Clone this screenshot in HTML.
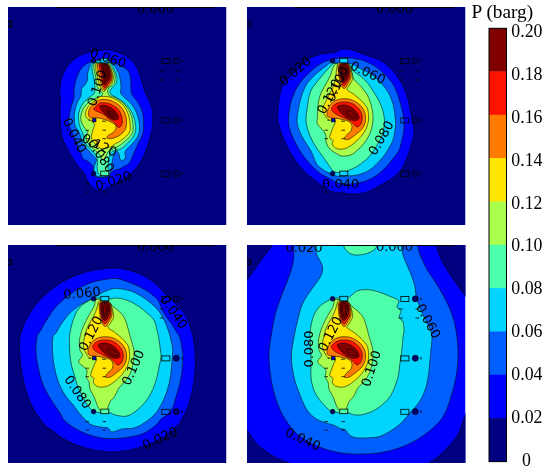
<!DOCTYPE html>
<html><head><meta charset="utf-8"><title>P (barg)</title>
<style>
html,body{margin:0;padding:0;background:#fff}
svg{display:block}
.c path{stroke:#000;stroke-width:.55;stroke-linejoin:round}
.l{font-family:"DejaVu Sans","Liberation Sans",sans-serif;font-size:13px;fill:#000}
.s{font-family:"Liberation Serif",serif;font-size:17.8px;fill:#000}
.m{fill:none;stroke:#000;stroke-width:.8}
</style></head><body>
<svg width="550" height="472" viewBox="0 0 550 472">
<rect width="550" height="472" fill="#fff"/>
<defs>
<clipPath id="p1"><rect x="8" y="7" width="218.5" height="218"/></clipPath>
<clipPath id="p2"><rect x="247" y="7" width="218.5" height="218"/></clipPath>
<clipPath id="p3"><rect x="8" y="245" width="218.5" height="218"/></clipPath>
<clipPath id="p4"><rect x="247" y="245" width="218.5" height="218"/></clipPath>
</defs>
<g clip-path="url(#p1)">
<rect x="8" y="7" width="218.5" height="218" fill="#000080"/>
<g class="c">
<path fill="#0000ff" d="M100 50.7C102.9 50.3 105 49.4 107.6 49.5C110.1 49.6 112.7 50.6 115.3 51.4C117.9 52.2 120.5 53.1 123 54.5C125.5 55.9 128.3 57.6 130.5 59.6C132.7 61.6 134.8 64.1 136.3 66.6C137.8 69 138.6 71.7 139.5 74.3C140.4 76.9 141.3 79.7 142 82C142.7 84.3 143 86.1 143.6 88C144.2 89.9 144.7 91.7 145.5 93.5C146.3 95.3 147.4 97.2 148.2 99C149 100.8 149.8 102.2 150.5 104C151.2 105.8 151.9 107.7 152.3 110C152.7 112.3 152.8 114.8 152.8 117.8C152.8 120.8 152.7 124.5 152.2 128C151.7 131.5 150.5 135.7 149.6 139C148.7 142.3 148.1 144.7 147 147.6C145.9 150.5 144.8 153.5 143.3 156.5C141.8 159.5 140.1 162.8 138.2 165.5C136.3 168.2 133.9 170.6 131.8 172.5C129.7 174.4 127.8 175.4 125.5 177C123.2 178.6 120.6 180.3 118 182C115.4 183.7 112.7 185.6 110 187C107.3 188.4 104.3 190.1 102 190.5C99.7 190.9 97.8 190.3 96 189.5C94.2 188.7 92.4 187.1 91 185.5C89.6 183.9 88.5 182 87.4 180C86.3 178 85.5 175.6 84.2 173.5C82.9 171.4 81.3 170 79.5 167.7C77.7 165.4 75.2 161.9 73.6 159.5C72 157.1 71.3 155.4 70 153.2C68.7 150.9 67.2 148.5 66 146C64.8 143.5 63.4 141 62.5 138C61.6 135 61.1 131.3 60.7 128C60.3 124.7 60.4 121.3 60.3 118C60.2 114.7 60 111 60 108C60 105 60.5 102.4 60.5 100C60.5 97.6 59.8 96 59.8 93.5C59.8 91 59.9 88 60.3 85.3C60.7 82.5 61.2 79.6 62 77C62.8 74.4 64 72 65.3 69.8C66.6 67.5 68 65.5 69.8 63.5C71.6 61.5 74.2 59.5 76.2 58C78.2 56.5 79.7 55.5 82 54.5C84.3 53.5 87 52.6 90 52C93 51.4 97.1 51.1 100 50.7Z"/>
<path fill="#0060ff" d="M100 59.5C102.3 59.5 104.8 59.5 107.6 60.3C110.3 61 113.8 62.8 116.5 64C119.2 65.2 122 66 124 67.3C126 68.6 127.5 69.9 128.6 71.7C129.7 73.5 130.1 75.3 130.5 78C130.9 80.7 130.8 85.6 131 88C131.2 90.4 131 91 131.4 92.5C131.8 94 132.6 95.5 133.6 97C134.6 98.5 136.2 99.9 137.3 101.6C138.5 103.3 139.6 105 140.5 107C141.4 109 142.2 111.4 142.7 113.5C143.2 115.6 143.4 117.7 143.6 119.8C143.8 121.9 143.6 124.2 143.6 126C143.6 127.8 143.9 128.7 143.5 130.7C143.1 132.7 142.1 135.4 141 138C139.9 140.6 138.2 143.3 137 146C135.8 148.7 134.6 151.5 133.5 154C132.4 156.5 131.5 159.2 130.5 161C129.5 162.8 128.4 163.8 127.3 164.7C126.1 165.6 125 165.7 123.6 166.5C122.2 167.3 120.5 168.7 119 169.3C117.5 169.9 115.9 169.6 114.5 170.2C113.1 170.8 111.5 171.9 110.5 173C109.5 174.1 109.9 175.8 108.5 176.5C107.1 177.2 104.1 177.4 102 177.5C99.9 177.6 97.5 177.6 96 177C94.5 176.4 93.7 175.4 93.3 174C92.9 172.6 93.7 170 93.4 168.4C93.2 166.8 92.8 165.9 91.8 164.7C90.8 163.5 88.8 162 87.3 161C85.8 160 83.8 159.9 82.7 158.6C81.7 157.3 81.8 155 81 153.2C80.2 151.4 79.1 149.7 78.2 147.7C77.3 145.7 76.4 143.7 75.5 141.4C74.6 139.1 73.6 136.3 72.7 134C71.8 131.7 70.7 129.7 70 127.7C69.3 125.7 68.7 123.7 68.5 122C68.3 120.3 68.7 119.5 69 117.5C69.3 115.5 69.8 112.2 70.3 110C70.8 107.8 71.4 106.1 72 104C72.6 101.9 73.7 99.6 74 97.5C74.3 95.4 73.9 93.8 74 91.6C74.1 89.4 74.3 86.8 74.8 84.4C75.3 82 76.2 79.3 77 77C77.8 74.7 78.6 72.7 79.8 70.7C81 68.8 82.9 66.7 84.4 65.3C85.9 63.9 87.4 63.3 89 62.5C90.6 61.7 92.2 61 94 60.5C95.8 60 97.7 59.5 100 59.5Z"/>
<path fill="#00d4ff" d="M96 61C97.5 60.6 98.3 60.7 100 60.5C101.7 60.3 104.1 59.2 106.4 60C108.7 60.8 112 63.2 114 65.4C116 67.6 117.4 70.5 118.5 73C119.6 75.5 120 78.1 120.4 80.6C120.8 83.1 121 86.2 121 88C121 89.8 120.4 90.5 120.5 91.6C120.6 92.7 120.7 93.4 121.4 94.4C122.1 95.4 123.2 96.3 124.5 97.5C125.8 98.7 127.5 100 129 101.6C130.5 103.2 132.3 105 133.6 107C134.9 109 136 111.4 136.8 113.5C137.6 115.6 138.2 117.7 138.6 119.8C139 121.9 139.4 124.1 139.5 126C139.6 127.9 139.6 129.2 139.3 131C139 132.8 138.6 135 137.5 137C136.4 139 134.6 141.2 133 143C131.4 144.8 129.3 146.5 128 148C126.7 149.5 125.4 150.5 125 152C124.6 153.5 125.8 155.6 125.5 157C125.2 158.4 123.9 160.3 123 160.6C122.1 160.9 120.7 160.1 120 159C119.3 157.9 119.5 155.2 119 154C118.5 152.8 117.8 151.5 117 151.5C116.2 151.5 114.8 152.6 114 154C113.2 155.4 112.9 158 112.5 160C112.1 162 111.8 164.2 111.5 166C111.2 167.8 110.9 169.5 110.5 171C110.1 172.5 109.9 174.1 109 175C108.1 175.9 106.8 176.2 105 176.5C103.2 176.8 99.7 176.9 98 176.5C96.3 176.1 95.7 175.2 95 174C94.3 172.8 93.8 171.2 93.8 169.5C93.8 167.8 94.6 165.7 95 164C95.4 162.3 96.8 161 96.4 159.5C96 158 94.1 156.6 92.7 155C91.3 153.4 89.6 151.5 88.2 150C86.8 148.5 85.6 147.4 84.5 146C83.4 144.6 82.5 143.1 81.8 141.4C81.1 139.7 81.1 137.8 80.5 136C79.9 134.2 79.1 132.1 78.2 130.5C77.3 128.9 75.9 128.2 75.3 126.5C74.7 124.8 74.6 122.1 74.4 120C74.2 117.9 74.2 115.9 74.4 113.8C74.6 111.7 75.2 109.5 75.7 107.5C76.2 105.5 76.7 103.8 77.5 102C78.3 100.2 80.1 98.1 80.7 96.5C81.3 94.9 81 93.9 81.2 92.5C81.4 91.1 81.3 89.3 82 88C82.7 86.7 84.4 85.8 85.3 84.4C86.2 83 87.1 81.5 87.5 79.8C87.9 78.1 87.2 76.2 87.5 74.4C87.8 72.6 88.4 70.9 89 69C89.6 67.1 90 64.3 91.2 63C92.4 61.7 94.5 61.4 96 61Z"/>
<path fill="#4dffaa" d="M93 63.5C94.3 62.4 97.2 62.4 100 62.3C102.8 62.2 107.1 61.4 109.5 62.8C111.9 64.2 113.3 68 114.6 70.5C115.8 73 116.8 75.7 117 78C117.2 80.3 116.4 82.8 115.5 84.5C114.6 86.2 112.7 86.8 111.8 88C110.9 89.2 110.1 90.5 110 91.6C109.9 92.7 110.5 93.9 111.4 94.8C112.3 95.7 113.9 96.1 115.5 97C117.1 97.9 119.2 99 121 100.3C122.8 101.6 124.7 103.1 126.4 104.8C128.1 106.5 129.7 108.5 131 110.7C132.3 112.9 133.2 115.7 134 118C134.8 120.3 135.2 122.3 135.5 124.4C135.8 126.5 136 128.6 135.6 130.7C135.2 132.8 134.4 134.9 133 137C131.6 139.1 129.3 141.4 127.4 143.3C125.5 145.2 123.3 147.3 121.6 148.4C119.9 149.5 118.6 149.5 117 150C115.4 150.5 113.2 150.5 112 151.5C110.8 152.5 110.1 154.1 109.5 156C108.9 157.9 108.5 160.7 108.3 163C108 165.3 108.3 168.2 108 170C107.7 171.8 107.7 173.1 106.5 174C105.3 174.9 102.4 175.4 101 175.3C99.6 175.2 98.9 174.7 98.3 173.5C97.7 172.3 97.3 169.9 97.2 168C97.1 166.1 97.6 164 97.5 162C97.4 160 97.1 157.6 96.4 156C95.8 154.4 94.8 153.7 93.6 152.3C92.4 150.9 90.3 149.2 89 147.7C87.7 146.2 86.4 144.7 85.5 143.2C84.6 141.7 84 140.1 83.6 138.6C83.2 137.1 83.6 135.5 83.2 134C82.8 132.5 81.6 131.1 81 129.5C80.4 128 79.8 126.5 79.4 124.7C79 122.9 78.6 120.5 78.5 118.4C78.4 116.3 78.5 114.1 79 112C79.5 109.9 80.4 107.6 81.6 105.6C82.8 103.6 84.5 101.5 86 100C87.5 98.5 89.1 97.7 90.5 96.5C91.9 95.3 93.6 94.8 94.3 93C95 91.2 94.8 88 94.8 86C94.8 84 94.7 82.6 94.4 80.7C94.1 78.8 93.4 76.4 93 74.4C92.6 72.5 92 70.8 92 69C92 67.2 91.7 64.6 93 63.5Z"/>
<path fill="#aaff4d" d="M94.4 63.7C95.4 62.7 97.7 63.2 100 63.2C102.3 63.2 105.9 62.5 108 63.5C110.1 64.5 111.3 66.9 112.5 69C113.7 71.1 114.7 73.8 115 76C115.3 78.2 114.9 80.8 114.3 82.5C113.7 84.2 112.5 85.1 111.5 86C110.5 86.9 109.2 87.1 108.6 88C108 88.9 107.6 90 107.7 91.2C107.8 92.4 108 94.3 109 95.3C110 96.3 111.9 96.2 113.6 97C115.3 97.8 117.2 98.6 119 99.8C120.8 101 122.9 102.7 124.5 104.4C126.1 106.1 127.4 107.8 128.6 109.8C129.8 111.8 130.7 114.1 131.4 116.2C132.1 118.3 132.4 120.1 132.7 122.5C133 124.9 133.4 128.4 133 130.7C132.6 133 131.5 134.6 130 136.5C128.5 138.4 126.2 140.3 124.2 142C122.2 143.7 119.7 145.3 117.8 146.5C115.9 147.7 114.2 148.2 112.7 149C111.2 149.8 109.5 150 108.5 151C107.5 152 107.1 153.7 106.5 155C105.9 156.3 105.7 158.2 105 159C104.3 159.8 103.3 160.7 102.5 160C101.7 159.3 101 156.4 100 155C99 153.6 97.8 152.7 96.4 151.4C95 150.1 93.2 148.7 91.8 147.3C90.4 145.9 89.2 144.6 88.2 143.2C87.2 141.8 86.2 140.1 86 138.6C85.8 137.1 86.5 135.2 86.8 134C87.1 132.8 88 132.3 87.7 131.4C87.4 130.5 86 130 85 128.6C84 127.2 82.5 124.7 81.8 123C81.1 121.3 80.7 120.1 80.7 118.4C80.7 116.7 81 114.8 81.6 113C82.1 111.2 82.9 109.2 84 107.5C85.1 105.8 86.4 104.4 88 103C89.6 101.6 91.8 100.3 93.5 99.3C95.2 98.3 96.6 97.6 98 97C99.4 96.4 101.2 96.2 102 95.5C102.8 94.8 102.9 93.9 102.5 93C102.1 92.1 100.4 91.2 99.5 90C98.6 88.8 97.5 87.5 97 86C96.5 84.5 96.5 82.6 96.2 80.7C95.9 78.8 95.7 76.4 95.3 74.4C94.9 72.5 94.2 70.8 94 69C93.8 67.2 93.4 64.7 94.4 63.7Z"/>
<path fill="#ffe600" d="M100 96.6C101.5 96.4 105 96.3 107.3 96.6C109.6 96.9 111.6 97.7 113.6 98.5C115.5 99.3 117.3 100.4 119 101.6C120.7 102.8 122.3 104.2 123.6 105.7C124.9 107.2 125.9 108.8 126.8 110.7C127.7 112.6 128.5 114.9 129 117C129.5 119.1 129.8 121.2 130 123.5C130.2 125.8 130.6 128.6 130 130.7C129.4 132.8 128.1 134.3 126.5 136C124.9 137.7 122.5 139.6 120.4 141C118.3 142.4 115.4 143.6 114 144.5C112.6 145.4 113.1 145.8 111.8 146.4C110.5 147 108.2 147.8 106.4 148.2C104.6 148.6 102.7 149.1 101 148.6C99.3 148.1 97.9 146.3 96.4 145C95 143.7 93.1 142 92.3 140.5C91.5 139 91.3 137.7 91.4 136C91.5 134.3 92.2 132.3 92.7 130.5C93.2 128.7 94.5 126.4 94.5 125C94.5 123.6 93.9 122.9 93 122C92.1 121.1 90.1 120.2 89 119.5C87.9 118.8 86.8 118.5 86.2 117.5C85.6 116.5 85.2 115.2 85.3 113.8C85.4 112.4 85.8 110.8 86.6 109.3C87.3 107.8 88.3 106.1 89.8 104.7C91.2 103.3 93.9 102.1 95.3 101C96.7 99.9 97.2 98.7 98 98C98.8 97.3 98.5 96.8 100 96.6Z"/>
<path fill="#ffe600" d="M96 64C96.7 63.1 98.1 63.8 100 63.8C101.9 63.8 105.7 63.1 107.5 64C109.3 64.9 110 67 111 69C112 71 113 73.8 113.3 76C113.5 78.2 113.2 80.2 112.5 82C111.8 83.8 110 85.5 109 86.5C108 87.5 107.2 87.2 106.4 88C105.6 88.8 104.8 91.4 104 91.6C103.2 91.8 102.2 90.1 101.5 89C100.8 87.9 100.1 86.5 99.5 85C98.9 83.5 98.5 81.8 98 80C97.5 78.2 97.2 75.8 96.8 74C96.4 72.2 95.9 70.7 95.8 69C95.7 67.3 95.3 64.9 96 64Z"/>
<path fill="#ff7a00" d="M97.5 64.2C99 63.1 105.1 63.4 107.3 64.2C109.5 65 109.7 67 110.5 69C111.3 71 112.2 73.9 112.3 76C112.4 78.1 112 79.8 111.3 81.5C110.6 83.2 109.1 84.6 108 86C106.9 87.4 105.4 89.8 104.5 90C103.6 90.2 103.1 88.7 102.5 87.5C101.9 86.3 101.3 84.8 100.8 83C100.3 81.2 99.9 79 99.5 77C99.1 75 98.5 73.1 98.2 71C97.9 68.9 96 65.3 97.5 64.2Z"/>
<path fill="#ff1300" d="M99.5 64.4C100.7 63.6 105.5 63.6 107.2 64.4C108.9 65.2 109.1 67.1 109.8 69C110.5 70.9 111.2 74 111.3 76C111.4 78 111 79.5 110.3 81C109.6 82.5 108.2 83.8 107.3 85C106.4 86.2 105.5 87.9 104.8 88C104.1 88.1 103.8 86.8 103.3 85.5C102.8 84.2 102.4 81.9 102 80C101.6 78.1 101.4 75.8 101 74C100.6 72.2 100 70.6 99.8 69C99.5 67.4 98.3 65.2 99.5 64.4Z"/>
<path fill="#800000" d="M101 64.6C102 64 105.7 63.9 107 64.6C108.3 65.3 108.5 67.3 109 69C109.5 70.7 110.3 73.2 110.3 75C110.3 76.8 109.6 78.6 109 80C108.4 81.4 107.2 82.6 106.5 83.5C105.8 84.4 105.4 85.7 105 85.5C104.6 85.3 104.3 83.9 104 82.5C103.7 81.1 103.3 78.8 103 77C102.7 75.2 102.6 73.5 102.3 72C102 70.5 101.4 69.2 101.2 68C101 66.8 100 65.2 101 64.6Z"/>
<path fill="none" d="M102.5 65.5C103 64.8 105.6 64.8 106.5 65.5C107.4 66.2 107.6 68.4 108 70C108.4 71.6 108.8 73.5 108.8 75C108.8 76.5 108.3 77.9 107.8 79C107.3 80.1 106.5 81.3 106 81.5C105.5 81.7 105.1 81.1 104.8 80C104.5 78.9 104.2 76.7 104 75C103.8 73.3 103.5 71.6 103.3 70C103 68.4 102 66.2 102.5 65.5Z"/>
<path fill="none" d="M104 67C104.2 66.4 105.5 66.7 106 67.5C106.5 68.3 106.8 70.6 107 72C107.2 73.4 107.4 74.9 107.2 76C107 77.1 106.3 78.5 106 78.5C105.7 78.5 105.4 77.2 105.2 76C105 74.8 105 72.5 104.8 71C104.6 69.5 103.8 67.6 104 67Z"/>
<path fill="#ff7a00" d="M100 99.8C102 99.2 104.3 99.4 106.4 99.6C108.5 99.8 110.7 100.4 112.7 101.2C114.7 102 116.6 103.2 118.2 104.4C119.8 105.6 121.2 107 122.3 108.5C123.4 110 124.3 111.8 125 113.5C125.7 115.2 126.2 117.2 126.4 119C126.6 120.8 126.6 122.7 126.4 124.4C126.2 126.1 126.1 127.7 125.5 129C124.9 130.3 124.2 131.3 123 132.5C121.8 133.7 120.3 135 118.5 136C116.7 137 114.1 138.1 112.2 138.5C110.3 138.9 108 138.8 107.3 138.3C106.6 137.8 107.4 136.2 108 135.5C108.6 134.8 109.9 134.8 111 134C112.1 133.2 113.9 132.1 114.7 130.8C115.5 129.5 116.6 127.5 116 126C115.4 124.5 112.9 123.1 111 122C109.1 120.9 106.6 120.1 104.5 119.4C102.4 118.7 99.9 118.3 98.2 118C96.5 117.7 95.7 117.7 94.4 117.7C93.2 117.7 91.7 118.3 90.7 118C89.7 117.7 88.9 116.6 88.5 115.6C88.1 114.6 88.2 113.3 88.5 112C88.8 110.7 89.3 108.9 90.3 107.5C91.3 106.1 92.8 104.7 94.4 103.4C96 102.1 98 100.4 100 99.8Z"/>
<path fill="#ff1300" d="M100 103C101.6 102.6 104.4 102.7 106.4 103C108.4 103.3 110.1 104 111.8 104.8C113.5 105.6 115.4 106.8 116.8 108C118.2 109.2 119.2 110.5 120 112C120.8 113.5 121.4 115.3 121.8 117C122.2 118.7 122.4 120.5 122.3 122C122.2 123.5 121.6 125.3 121 126.2C120.4 127.1 119.4 127.7 118.6 127.5C117.8 127.3 117.2 126.3 116.4 125.3C115.6 124.3 115 122.8 113.6 121.6C112.2 120.4 109.4 119.4 108 118.4C106.6 117.4 106.7 116.6 105.3 115.6C103.9 114.6 101.5 113.3 99.8 112.5C98.1 111.7 96.3 111.3 95.3 110.6C94.3 109.9 93.7 109.2 94 108.4C94.3 107.6 96 106.5 97 105.6C98 104.7 98.4 103.4 100 103Z"/>
<path fill="#800000" d="M100 105.7C100.7 105.2 102.8 105.1 104.5 105.3C106.2 105.5 108.3 106.2 110 107C111.7 107.8 113.2 109.1 114.5 110.3C115.8 111.5 117 113.1 117.7 114.4C118.4 115.7 118.8 117.1 118.6 118C118.4 118.9 117.8 119.6 116.8 119.8C115.8 120 114.1 119.9 112.7 119.4C111.3 118.9 109.4 117.8 108.2 117C107 116.2 106.6 115.5 105.5 114.4C104.4 113.4 102.7 111.8 101.8 110.7C100.9 109.6 100.6 108.8 100.3 108C100 107.2 99.3 106.2 100 105.7Z"/>
<path fill="none" d="M107.3 110.7C107.8 110.1 110.4 110.8 111.8 111.6C113.2 112.4 115.2 114.3 115.5 115.3C115.8 116.3 114.7 117.5 113.6 117.5C112.5 117.5 110 116.4 109 115.3C108 114.2 106.8 111.3 107.3 110.7Z"/>
<path fill="none" d="M109 112.5C109.1 112.2 111 113.4 111.8 113.9C112.6 114.4 113.7 115.4 113.6 115.7C113.5 116 111.8 116.2 111 115.7C110.2 115.2 108.9 112.8 109 112.5Z"/>
</g>
<g class="m">
<circle cx="93.6" cy="60.8" r="2.3" fill="#000070" stroke-width=".7"/>
<rect x="100.8" y="58.3" width="8" height="4.6" fill="#00d4ff"/>
<rect x="161.8" y="58.5" width="8.1" height="5" fill="none"/>
<circle cx="176.3" cy="60.8" r="3" fill="#000070" stroke-width=".7"/>
<path d="M182 59.6v2.4" stroke-width="1"/>
<path d="M159.8 71h4M176.4 71h4"/>
<path d="M159.8 80h4M176.4 80h4"/>
<rect x="92.6" y="118.5" width="3.4" height="3.4" fill="#0000c8" stroke-width=".6"/>
<path d="M88.5 120.2h2M102 121.2h4"/>
<rect x="161.8" y="117.9" width="8.1" height="5" fill="none"/>
<circle cx="176.3" cy="120.2" r="3" fill="#000070" stroke-width=".7"/>
<path d="M182 119v2.4" stroke-width="1"/>
<path d="M85.5 130.2h3.5M102.5 130.2h3.5"/>
<path d="M85.5 138.7h3.5M102.5 138.7h3.5"/>
<circle cx="93.6" cy="173.6" r="2.3" fill="#000070" stroke-width=".7"/>
<rect x="100.8" y="171.1" width="8" height="4.6" fill="#4dffaa"/>
<rect x="161.8" y="171.3" width="8.1" height="5" fill="none"/>
<circle cx="176.3" cy="173.6" r="3" fill="#000070" stroke-width=".7"/>
<path d="M182 172.4v2.4" stroke-width="1"/>
<path d="M85.5 183.6h3.5M102.5 183.6h3.5"/>
<path d="M85.5 192.1h3.5M102.5 192.1h3.5"/>
<path d="M56 7.3H214.5" stroke-width="1.3"/>
<rect x="4" y="21.7" width="7.4" height="4.6" fill="none" stroke-width="1.2"/>
</g>
<text class="l" text-anchor="middle" x="155.5" y="12.8">0.000</text>
<text class="l" text-anchor="middle" transform="translate(108 58) rotate(18)" y="4.5">0.060</text>
<text class="l" text-anchor="middle" transform="translate(97 88) rotate(-72)" y="4.5">0.100</text>
<text class="l" text-anchor="middle" transform="translate(74.7 135.3) rotate(63)" y="4.5">0.040</text>
<text class="l" text-anchor="middle" transform="translate(113.4 180.6) rotate(-18)" y="4.5">0.020</text>
<text class="l" text-anchor="middle" transform="translate(99.5 145) rotate(25)" y="4.5">0.120</text>
<text class="l" text-anchor="middle" transform="translate(101.2 155.7) rotate(56)" y="4.5">0.080</text>
</g>
<g clip-path="url(#p2)">
<rect x="247" y="7" width="218.5" height="218" fill="#000080"/>
<g class="c">
<path fill="#0000ff" d="M347 49C349 49.2 351.4 49.7 353.6 50.4C355.8 51.1 357.3 52 360 53C362.7 54 366.7 55.3 370 56.5C373.3 57.7 376.7 58.1 380 60C383.3 61.9 387 65.2 390 68C393 70.8 395.7 73.7 398 77C400.3 80.3 402.3 84.2 404 88C405.7 91.8 406.9 96 408 100C409.1 104 409.8 108.3 410.5 112C411.2 115.7 411.9 118.7 412.5 122C413.1 125.3 414.2 128 414 132C413.8 136 412.3 141.3 411 146C409.7 150.7 407.8 155.8 406 160C404.2 164.2 402.7 167.7 400 171C397.3 174.3 392.3 178.2 390 180C387.7 181.8 388.5 180.4 386.4 181.6C384.3 182.8 380.3 185.4 377.3 187C374.3 188.6 371.2 190.3 368.2 191.4C365.1 192.5 362 193.4 359 193.8C356 194.2 353 194.1 350 194C347 193.9 344 193.4 341 193C338 192.6 334.5 192.2 332 191.5C329.5 190.8 328.5 190.1 326 188.5C323.5 186.9 320.5 184.8 317 182C313.5 179.2 308.7 175.7 305 172C301.3 168.3 298 164.3 295 160C292 155.7 289.3 150.7 287 146C284.7 141.3 282.5 136.3 281 132C279.5 127.7 278.5 123.7 278 120C277.5 116.3 277.8 113.3 278 110C278.2 106.7 278.5 103.3 279 100C279.5 96.7 280 93.1 281 90C282 86.9 283.5 83.8 285 81.5C286.5 79.2 288.3 78.1 290 76.5C291.7 74.9 293.3 73.5 295 72C296.7 70.5 298.3 69.1 300 67.5C301.7 65.9 303.4 64 305 62.5C306.6 61 307.8 59.6 309.5 58.5C311.2 57.4 313 56.8 315 56C317 55.2 319.1 54.5 321.4 54C323.7 53.5 326.3 53.5 328.6 53.2C330.9 53 333.4 52.9 335 52.5C336.6 52.1 336.9 51.3 338 50.8C339.1 50.3 340.1 49.6 341.6 49.3C343.1 49 345 48.8 347 49Z"/>
<path fill="#0060ff" d="M333 59.5C334.6 59.1 337.7 58.1 340 57.8C342.3 57.5 344.7 57.4 347 57.5C349.3 57.6 351.7 58.1 354 58.5C356.3 58.9 358.3 59 361 59.8C363.7 60.6 366.8 61.8 370 63.5C373.2 65.2 376.7 67.2 380 70C383.3 72.8 387.3 76.7 390 80C392.7 83.3 394.3 86.3 396 90C397.7 93.7 398.8 98 400 102C401.2 106 402.3 110.3 403 114C403.7 117.7 403.9 121 404 124C404.1 127 404.1 128.7 403.6 132C403.1 135.3 401.9 140.7 401 144C400.1 147.3 399.2 149.8 398 152C396.8 154.2 395.3 155.8 394 157.5C392.7 159.2 391.7 160.5 390 162.5C388.3 164.5 385.9 167.3 383.6 169.5C381.3 171.7 379 173.8 376.4 175.5C373.8 177.2 370.9 178.8 368.2 180C365.5 181.2 363 181.9 360 182.6C357 183.3 353.3 183.8 350 184C346.7 184.2 342.7 184 340 183.5C337.3 183 336 182 334 181C332 180 329.6 178.5 328 177.7C326.4 176.9 326 176.9 324.5 176C323 175.1 321.2 174.3 319 172.5C316.8 170.7 313.8 168.1 311 165C308.2 161.9 304.7 157.8 302 154C299.3 150.2 297 146 295 142C293 138 291.1 133.7 290 130C288.9 126.3 288.5 124 288.5 120C288.5 116 289.2 110.2 290 106C290.8 101.8 292.4 98 293.5 95C294.6 92 295.6 89.8 296.8 87.7C298 85.6 299.1 84.1 300.5 82.3C301.9 80.5 303.3 78.6 305 76.8C306.7 75 308.7 73.1 310.5 71.4C312.3 69.7 314.2 68.2 316 66.8C317.8 65.4 319.7 64.2 321.4 63.2C323.1 62.2 324.5 61.5 326 61C327.5 60.5 329.3 60.2 330.5 60C331.7 59.8 331.4 59.9 333 59.5Z"/>
<path fill="#00d4ff" d="M336 63C337.9 63.2 340 63.9 342 64C344 64.1 346.3 63.5 348 63.5C349.7 63.5 349.8 63.1 352 64C354.2 64.9 357.8 67.3 361 69C364.2 70.7 367.8 71.8 371 74C374.2 76.2 377.2 79 380 82C382.8 85 385.8 88.3 388 92C390.2 95.7 391.8 100 393 104C394.2 108 394.6 112.7 395 116C395.4 119.3 395.6 121.7 395.6 124C395.6 126.3 395.4 127.3 395 130C394.6 132.7 394 137 393 140C392 143 390.4 145.5 389 148C387.6 150.5 386.2 152.8 384.5 155C382.8 157.2 381 159.3 379 161.4C377 163.5 374.9 165.9 372.7 167.7C370.4 169.5 368.1 171.1 365.5 172.3C362.9 173.5 359.9 174.4 357.3 175C354.7 175.6 352.7 175.6 350 175.8C347.3 176.1 343.7 176.6 341 176.5C338.3 176.4 336 176.1 334 175.5C332 174.9 330.4 173.7 329 173C327.6 172.3 327 172.2 325.5 171.3C324 170.4 321.6 168.9 320 167.5C318.4 166.1 317.5 165.8 316 163C314.5 160.2 313 154.8 311 151C309 147.2 306 143.5 304 140C302 136.5 300.2 133.3 299 130C297.8 126.7 297 124 297 120C297 116 298.2 110 299 106C299.8 102 300.6 98.9 301.5 96C302.4 93.1 303.6 90.5 304.5 88.5C305.4 86.5 305.7 85.7 306.8 84C307.9 82.3 309.9 80.3 311.4 78.6C312.9 76.9 314.3 75.5 316 74C317.7 72.5 319.7 70.8 321.4 69.5C323.1 68.2 324.5 67.1 326 66C327.5 64.9 328.8 63.3 330.5 62.8C332.2 62.3 334.1 62.8 336 63Z"/>
<path fill="#4dffaa" d="M337 64C335.4 63.8 334.5 63.2 333.5 63.5C332.5 63.8 332.2 64.6 331 65.8C329.8 67 328.3 68.4 326.5 70.4C324.7 72.4 322.3 75.4 320.2 78C318.1 80.6 315.5 83.5 313.8 86C312.1 88.5 311.1 89.7 310 93C308.9 96.3 308.2 101.5 307.5 106C306.8 110.5 305.9 116 306 120C306.1 124 307.2 127 308 130C308.8 133 309.7 135.2 311 138C312.3 140.8 314.3 144.3 316 147C317.7 149.7 319.3 151.7 321 154C322.7 156.3 324.5 158.8 326 161C327.5 163.2 328.7 165.2 330 167C331.3 168.8 332.3 170.7 334 171.6C335.7 172.5 338 172.5 340 172.5C342 172.5 344.3 171.9 346 171.5C347.7 171.1 348.3 170.6 350 169.8C351.7 169 354.3 168.1 356.4 166.8C358.5 165.6 360.7 163.8 362.7 162.3C364.7 160.8 366.6 159.2 368.2 157.7C369.8 156.1 370.6 154.9 372 153C373.4 151.1 375 148.5 376.5 146C378 143.5 379.9 140.3 381 138C382.1 135.7 382.4 134.3 383 132C383.6 129.7 384.2 126.7 384.4 124C384.6 121.3 384.4 118.7 384 116C383.6 113.3 383 110.8 382 108C381 105.2 379.5 101.8 378 99C376.5 96.2 374.7 93.6 373 91C371.3 88.4 370 85.9 368 83.5C366 81.1 363.3 78.5 361 76.5C358.7 74.5 355.6 73.3 354 71.6C352.4 69.9 352.3 67.8 351.5 66.5C350.7 65.2 350.4 64.3 349 64C347.6 63.7 345 64.5 343 64.5C341 64.5 338.6 64.2 337 64Z"/>
<path fill="#aaff4d" d="M341 64.5C339 64.4 336.9 63.2 335.5 64C334.1 64.8 333.4 67.1 332.5 69C331.6 70.9 331.4 73.2 330.4 75.5C329.4 77.8 328 80.2 326.5 83C325 85.8 322.8 89 321.5 92C320.2 95 319.2 98 318.6 101C318 104 317.8 107.3 317.6 110C317.4 112.7 317.7 114.9 317.6 117C317.5 119.1 316.6 120.8 317 122.5C317.4 124.2 319 126 320.2 127.5C321.4 129 323 129.9 324 131.4C325 132.9 325.7 134.8 326 136.5C326.3 138.2 325.5 139.6 326 141.5C326.5 143.4 327.4 146.1 329 148C330.6 149.9 333.3 151.7 335.5 153C337.7 154.3 339.5 155.7 342 156C344.5 156.3 348.2 155.9 350.7 155C353.2 154.1 354.9 152.3 357 150.5C359.1 148.7 361.5 146.6 363.5 144C365.5 141.4 367.7 138.4 369.2 135.2C370.7 132 371.8 128.4 372.4 125C373 121.6 373.2 118.2 373 114.8C372.8 111.4 371.9 107.9 371 104.6C370.1 101.3 369 98 367.3 95C365.6 92 363.2 89.2 361 86.6C358.8 84 355.5 81.6 354 79.3C352.5 77 352.7 75 352 73C351.3 71 350.8 68.4 350 67C349.2 65.6 349 64.9 347.5 64.5C346 64.1 343 64.6 341 64.5Z"/>
<path fill="#ffe600" d="M338.5 63C337.4 63.2 337.8 63.7 337.4 65C337 66.3 336.6 68.7 336.3 71C336 73.3 336.1 76.3 335.5 79C334.9 81.7 334 84.5 333 87C332 89.5 330.8 91.3 329.5 94C328.2 96.7 326.1 100.4 325 103C323.9 105.6 322.6 107.5 322.7 109.7C322.8 111.9 324.2 114.3 325.3 116C326.4 117.7 327.3 119.2 329 120C330.7 120.8 334.8 119.5 335.5 120.5C336.2 121.5 334.2 124.3 333.5 126.3C332.8 128.3 331.6 130.7 331 132.6C330.4 134.5 329.4 136.4 329.7 137.7C330 139 332.6 139.2 333 140.3C333.4 141.4 331.9 142.7 332.3 144C332.7 145.3 333.9 147.1 335.5 148C337.1 148.9 339.7 149.3 341.8 149.2C343.9 149.1 346.1 148.4 348.2 147.3C350.3 146.2 352.4 144.6 354.5 142.8C356.6 141 359.1 138.8 361 136.5C362.9 134.2 364.8 131.6 366 128.8C367.2 126.1 368.2 123 368.5 120C368.8 117 368.4 113.3 368 111C367.6 108.7 367.2 107.8 366 106C364.8 104.2 363.1 102.4 361 100.4C358.9 98.4 355.6 95.8 353.3 94C351 92.2 347.6 91 347 89.5C346.4 88 348.6 86.8 349.5 85C350.4 83.2 352.3 81 352.6 78.7C352.9 76.4 352 73.4 351.4 71C350.8 68.6 350 65.8 348.8 64.5C347.6 63.2 345.7 63.8 344 63.5C342.3 63.2 339.6 62.8 338.5 63Z"/>
<path fill="#ff7a00" d="M339.2 64.2C340.9 63.3 346.4 63.1 348.3 64.2C350.2 65.3 350.1 68.8 350.5 71C350.9 73.2 351.4 75.4 351 77.5C350.6 79.6 349.1 82 348 83.8C346.9 85.6 345.7 88.2 344.6 88.5C343.5 88.8 342.4 87.6 341.5 85.8C340.6 84 339.5 80.2 339 77.5C338.5 74.8 338.3 72 338.3 69.8C338.3 67.6 337.5 65.1 339.2 64.2Z"/>
<path fill="#ff1300" d="M340 64.4C341.4 63.6 346.2 63.3 347.8 64.4C349.4 65.5 349.3 68.8 349.6 71C349.9 73.2 350.1 75.5 349.6 77.5C349.1 79.5 347.4 81.6 346.5 83C345.6 84.4 345 85.7 344.2 85.8C343.4 85.9 342.5 85.1 341.8 83.5C341.1 81.9 340.2 78.4 339.8 76C339.4 73.6 339.2 70.9 339.2 69C339.2 67.1 338.6 65.2 340 64.4Z"/>
<path fill="#800000" d="M340.8 64.7C342 64.1 345.9 63.6 347.2 64.7C348.5 65.7 348.6 68.9 348.7 71C348.8 73.1 348.6 75.6 348 77.5C347.4 79.4 345.7 81.6 344.8 82.3C343.9 83.1 343.3 83.2 342.6 82C341.9 80.8 341 77.2 340.6 75C340.2 72.8 340.2 70.2 340.2 68.5C340.2 66.8 339.6 65.3 340.8 64.7Z"/>
<path fill="none" d="M341.8 66C342.7 65.5 345.4 65.2 346.3 66C347.2 66.8 347.3 69.2 347.3 71C347.3 72.8 346.9 75 346.3 76.5C345.8 78 344.6 79.5 344 80C343.4 80.5 343.2 80.2 342.8 79.2C342.4 78.2 341.8 75.7 341.5 74C341.2 72.3 341.1 70.3 341.2 69C341.2 67.7 340.9 66.5 341.8 66Z"/>
<path fill="none" d="M343 68C343.5 67.4 344.9 67.3 345.4 68C345.9 68.7 345.9 70.7 345.8 72C345.7 73.3 345.3 75.1 345 76C344.7 76.9 344.2 77.6 343.9 77.5C343.6 77.4 343.2 76.5 343 75.5C342.8 74.5 342.4 72.8 342.4 71.5C342.4 70.2 342.5 68.6 343 68Z"/>
<path fill="#ff7a00" d="M327.2 116C326.6 114.6 326.9 111.9 327.8 109.7C328.7 107.5 330.2 104.5 332.3 102.7C334.4 100.9 337.4 99.5 340.5 99C343.6 98.5 347.5 98.6 350.7 99.5C353.9 100.4 357.3 102.5 359.6 104.6C361.9 106.7 363.7 109.5 364.7 112.3C365.7 115.1 365.8 118.4 365.4 121.2C365 123.9 363.8 126.6 362.2 128.8C360.6 131 357.9 132.8 355.8 134.5C353.7 136.2 351.4 138.2 349.5 139C347.6 139.8 344.8 139.8 344.4 139C344 138.2 345.9 135.8 347 134.5C348.1 133.2 349.9 132.8 350.7 131.4C351.5 130 352.2 127.9 352 126.3C351.8 124.7 350.8 122.9 349.5 121.8C348.2 120.8 346.3 120.5 344.4 120C342.5 119.5 340.1 118.9 338 118.6C335.9 118.3 333.4 118.4 331.6 118C329.8 117.6 327.8 117.4 327.2 116Z"/>
<path fill="#ff1300" d="M331.6 108.5C331.9 107.1 333.6 105.1 335.5 104C337.4 102.9 340.2 102.1 343 102C345.8 101.9 349.3 102.2 352 103.4C354.7 104.6 357.3 106.9 359 109C360.7 111.1 361.9 113.5 362.2 116C362.5 118.5 361.9 121.9 361 123.7C360.1 125.5 358.3 127 357 127C355.7 127 354.6 124.8 353.3 123.7C352.1 122.6 351.2 121.5 349.5 120.5C347.8 119.5 345 118.3 343 117.4C341 116.4 339 115.7 337.4 114.8C335.8 114 334.5 113.4 333.5 112.3C332.5 111.3 331.3 109.9 331.6 108.5Z"/>
<path fill="#800000" d="M337.4 106.5C338.2 105.5 342 104.8 344.4 105C346.8 105.2 349.8 106.4 352 107.8C354.2 109.2 356.5 111.7 357.7 113.5C358.9 115.3 359.5 117.4 359 118.6C358.5 119.8 356.3 120.5 354.5 120.5C352.7 120.5 350.1 119.6 348.2 118.6C346.3 117.7 344.5 116.1 343 114.8C341.5 113.5 340.2 112.4 339.3 111C338.4 109.6 336.5 107.5 337.4 106.5Z"/>
<path fill="none" d="M347 111C347.9 110.6 351.7 111.4 353.3 112.3C354.9 113.3 356.6 115.8 356.5 116.7C356.4 117.5 354 117.7 352.6 117.4C351.2 117.1 349.1 115.9 348.2 114.8C347.3 113.7 346.1 111.4 347 111Z"/>
</g>
<g class="m">
<circle cx="332.6" cy="60.8" r="2.3" fill="#000070" stroke-width=".7"/>
<rect x="339.8" y="58.3" width="8" height="4.6" fill="#00d4ff"/>
<rect x="400.8" y="58.5" width="8.1" height="5" fill="none"/>
<circle cx="415.3" cy="60.8" r="3" fill="#000070" stroke-width=".7"/>
<path d="M421 59.6v2.4" stroke-width="1"/>
<path d="M398.8 71h4M415.4 71h4"/>
<path d="M398.8 80h4M415.4 80h4"/>
<rect x="331.6" y="118.5" width="3.4" height="3.4" fill="#0000c8" stroke-width=".6"/>
<path d="M327.5 120.2h2M341 121.2h4"/>
<rect x="400.8" y="117.9" width="8.1" height="5" fill="none"/>
<circle cx="415.3" cy="120.2" r="3" fill="#000070" stroke-width=".7"/>
<path d="M421 119v2.4" stroke-width="1"/>
<path d="M324.5 130.2h3.5M341.5 130.2h3.5"/>
<path d="M324.5 138.7h3.5M341.5 138.7h3.5"/>
<circle cx="332.6" cy="173.6" r="2.3" fill="#000070" stroke-width=".7"/>
<rect x="339.8" y="171.1" width="8" height="4.6" fill="#00d4ff"/>
<rect x="400.8" y="171.3" width="8.1" height="5" fill="none"/>
<circle cx="415.3" cy="173.6" r="3" fill="#000070" stroke-width=".7"/>
<path d="M421 172.4v2.4" stroke-width="1"/>
<path d="M324.5 183.6h3.5M341.5 183.6h3.5"/>
<path d="M324.5 192.1h3.5M341.5 192.1h3.5"/>
<path d="M295 7.3H453.5" stroke-width="1.3"/>
<rect x="243" y="21.7" width="7.4" height="4.6" fill="none" stroke-width="1.2"/>
</g>
<text class="l" text-anchor="middle" x="394.5" y="12.8">0.000</text>
<text class="l" text-anchor="middle" transform="translate(295 71) rotate(-40)" y="4.5">0.020</text>
<text class="l" text-anchor="middle" transform="translate(368 72.5) rotate(25)" y="4.5">0.060</text>
<text class="l" text-anchor="middle" transform="translate(329 96.5) rotate(-63)" y="4.5">0.120</text>
<text class="l" text-anchor="middle" transform="translate(337 84) rotate(-66)" y="4.5">0.100</text>
<text class="l" text-anchor="middle" transform="translate(381 138) rotate(-60)" y="4.5">0.080</text>
<text class="l" text-anchor="middle" transform="translate(340.6 183) rotate(0)" y="4.5">0.040</text>
</g>
<g clip-path="url(#p3)">
<rect x="8" y="245" width="218.5" height="218" fill="#000080"/>
<g class="c">
<path fill="#0000ff" d="M116 268C120.3 268.2 124 269 128 270C132 271 136 272.2 140 274C144 275.8 148.5 278.5 152 281C155.5 283.5 158.5 286.5 161 289C163.5 291.5 164.5 293.5 167 296C169.5 298.5 173.2 301.2 176 304C178.8 306.8 181.8 309.8 184 313C186.2 316.2 187.7 319.7 189 323C190.3 326.3 191.2 330.2 192 333C192.8 335.8 193 336.7 193.5 340C194 343.3 194.8 347.8 195 353C195.2 358.2 195.3 365.3 195 371C194.7 376.7 194 381.7 193 387C192 392.3 190.5 398.3 189 403C187.5 407.7 186.2 411 184 415C181.8 419 180.3 422.8 176 427C171.7 431.2 165 436.3 158 440C151 443.7 142 447 134 449C126 451 118 452.2 110 452C102 451.8 93.3 450 86 448C78.7 446 72 443.2 66 440C60 436.8 53.5 431.5 50 429C46.5 426.5 47.3 427.7 45 425C42.7 422.3 38.7 417.3 36 413C33.3 408.7 31 404 29 399C27 394 25.3 388.3 24 383C22.7 377.7 21.7 372.7 21 367C20.3 361.3 19.8 354 19.6 349C19.4 344 19.8 339.7 20 337C20.2 334.3 20 335.8 21 333C22 330.2 23.8 324.3 26 320C28.2 315.7 31 311 34 307C37 303 40.3 299.5 44 296C47.7 292.5 51.7 289 56 286C60.3 283 65 280.3 70 278C75 275.7 80.7 273.5 86 272C91.3 270.5 97 269.7 102 269C107 268.3 111.7 267.8 116 268Z"/>
<path fill="#0060ff" d="M116 278.5C120.3 278.8 124 280.6 128 282C132 283.4 136.3 285.2 140 287C143.7 288.8 147 290.8 150 293C153 295.2 156.2 297.7 158 300C159.8 302.3 159.8 304.5 161 307C162.2 309.5 163.3 312.3 165 315C166.7 317.7 169.2 320.3 171 323C172.8 325.7 174.5 328.5 176 331C177.5 333.5 179 335 180 338C181 341 181.5 345.8 182 349C182.5 352.2 183 353.3 183 357C183 360.7 182.5 366.7 182 371C181.5 375.3 181 378.7 180 383C179 387.3 177.2 393 176 397C174.8 401 174.3 404.2 173 407C171.7 409.8 170 412 168 414C166 416 163 417.2 161 419C159 420.8 159.2 422.5 156 425C152.8 427.5 147.7 431.8 142 434C136.3 436.2 128.7 437.3 122 438C115.3 438.7 108.7 439 102 438C95.3 437 88 434.7 82 432C76 429.3 69.7 425.2 66 422C62.3 418.8 62.3 416.5 60 413C57.7 409.5 54.7 405.3 52 401C49.3 396.7 46.2 392 44 387C41.8 382 40.3 376.7 39 371C37.7 365.3 36.3 358.7 36 353C35.7 347.3 36.2 340.8 37 337C37.8 333.2 39.5 332.7 41 330C42.5 327.3 43.8 324.5 46 321C48.2 317.5 51 312.7 54 309C57 305.3 60.3 302.2 64 299C67.7 295.8 71.7 292.7 76 290C80.3 287.3 85.7 284.7 90 283C94.3 281.3 97.7 280.8 102 280C106.3 279.2 111.7 278.2 116 278.5Z"/>
<path fill="#00d4ff" d="M116 288.3C119.7 288.2 124.8 289.6 128 290.3C131.2 291 132.6 291.6 135 292.7C137.4 293.8 140 295.4 142.3 296.8C144.6 298.2 146.5 299.7 148.6 301.4C150.7 303.1 153 304.8 155 306.8C157 308.8 158.8 311 160.5 313.5C162.2 316 163.7 319.1 165 322C166.3 324.9 167.6 328.3 168.5 331C169.4 333.7 169.8 335 170.5 338C171.2 341 172.3 345.2 172.6 349C172.8 352.8 172.4 356.3 172 361C171.6 365.7 171.2 372 170.4 377C169.6 382 168.6 386.3 167 391C165.4 395.7 163.2 401 161 405C158.8 409 156.8 412 154 415C151.2 418 147.3 420.8 144 423C140.7 425.2 137.7 427 134 428C130.3 429 125.7 428.3 122 429C118.3 429.7 114.3 432.2 112 432C109.7 431.8 110 428.8 108 428C106 427.2 103 427.7 100 427C97 426.3 93.3 426.2 90 424C86.7 421.8 82.7 417 80 414C77.3 411 76.5 409.2 74 406C71.5 402.8 67.7 399.2 65 395C62.3 390.8 59.8 386 58 381C56.2 376 54.9 370.3 54 365C53.1 359.7 52.6 353.7 52.4 349C52.2 344.3 52.4 339.7 53 337C53.6 334.3 54.5 335.3 56 333C57.5 330.7 59.7 326.3 62 323C64.3 319.7 67 316 70 313C73 310 76.7 307.2 80 305C83.3 302.8 87 301.7 90 300C93 298.3 95.3 296.5 98 295C100.7 293.5 103 292.1 106 291C109 289.9 112.3 288.4 116 288.3Z"/>
<path fill="#4dffaa" d="M94 298.5C92 299 90.8 299.7 88.8 300.8C86.8 301.9 83.8 303.5 81.8 305.3C79.8 307.1 78.1 309.3 76.7 311.6C75.3 313.9 74.5 316.6 73.5 319.3C72.5 322 71.7 325.1 71 328C70.3 330.9 69.7 333.5 69.5 337C69.3 340.5 69.3 344.7 69.6 349C69.8 353.3 70.1 358.3 71 363C71.9 367.7 73.8 373 75 377C76.2 381 76.2 382.7 78 387C79.8 391.3 83.8 399.3 86 403C88.2 406.7 89.7 407.6 91 409C92.3 410.4 92.5 411 94 411.6C95.5 412.2 97.7 412.4 100 412.5C102.3 412.6 105.7 411.7 108 412C110.3 412.3 111.7 413.8 113.7 414.5C115.7 415.2 117.8 415.8 120 416C122.2 416.2 124.3 416.8 127 416C129.7 415.2 132.8 413.5 136 411C139.2 408.5 143.2 404.7 146 401C148.8 397.3 151.2 393 153 389C154.8 385 156 380.7 157 377C158 373.3 158.3 370.3 159 367C159.7 363.7 160.8 360.3 161 357C161.2 353.7 160.4 350.3 160 347C159.6 343.7 159 339.8 158.5 337C158 334.2 157.5 332.2 157 330C156.5 327.8 156.1 325.8 155.5 324C154.9 322.2 154.3 320.6 153.2 319C152 317.4 150.4 316.2 148.6 314.5C146.8 312.8 144.6 310.8 142.3 309C140 307.2 137.4 305.4 135 304C132.6 302.6 130.1 301.4 127.7 300.5C125.3 299.6 122.8 298.8 120.5 298.4C118.2 298 115.9 298.1 114 298.2C112.1 298.3 111.2 299 109 299C106.8 299 103.5 298.1 101 298C98.5 297.9 96 298 94 298.5Z"/>
<path fill="#aaff4d" d="M97 299.5C95.5 299.8 95.7 300.3 95.2 301.5C94.7 302.7 95.1 304.2 94 306.5C92.9 308.8 90.5 312.3 88.8 315.5C87.1 318.7 85.1 322.4 83.7 325.6C82.3 328.9 81.2 332.2 80.5 335C79.8 337.8 79.4 340.1 79.3 342.6C79.2 345.2 79.5 348.2 80 350.3C80.5 352.4 82.7 353.5 82.5 355.4C82.3 357.3 78.4 359.8 78.6 361.7C78.8 363.6 82.3 365.3 83.7 366.8C85.1 368.3 86.6 368.9 87 370.6C87.4 372.3 86 375.1 86.3 377C86.6 378.9 88.4 380 89 382C89.6 384 89.1 386.3 90 389C90.9 391.7 93.4 395.2 94.6 398C95.8 400.8 96.4 403.4 97.4 405.5C98.4 407.6 99 409.8 100.5 410.5C102 411.2 104.9 411.4 106.5 410C108.1 408.6 108.6 404.1 110 401.8C111.4 399.5 113.2 398.5 114.6 396.4C116 394.3 117.3 390.7 118.3 389C119.3 387.3 119.4 387.4 120.6 386C121.8 384.6 124 383.1 125.7 380.8C127.4 378.5 129.5 375.2 130.8 372C132.1 368.8 132.9 365.1 133.4 361.7C133.9 358.3 134.2 354.7 134 351.5C133.8 348.3 132.6 345 132 342.6C131.4 340.2 130.9 339.6 130.2 337C129.5 334.4 128.6 330.2 127.6 327C126.7 323.8 125.9 320.6 124.5 318C123.1 315.4 121.3 313.5 119.4 311.6C117.5 309.7 114.8 308.2 113 306.5C111.2 304.8 110 302.6 108.5 301.5C107 300.4 105.9 300.3 104 300C102.1 299.7 98.5 299.2 97 299.5Z"/>
<path fill="#ffe600" d="M99.5 301C98.4 301.2 98.6 301.9 98.2 303C97.8 304.1 97.7 305.7 97 307.8C96.3 309.9 95.4 312.7 94 315.5C92.6 318.3 90.2 321.4 88.8 324.4C87.4 327.4 86.3 330.5 85.5 333.3C84.7 336.1 84.1 339 83.8 341.4C83.5 343.8 83.3 345.6 83.7 347.7C84.1 349.8 85.3 352.3 86.3 354C87.4 355.7 88.3 357.2 90 358C91.7 358.8 95.8 357.4 96.5 358.5C97.2 359.6 95.2 362.3 94.5 364.3C93.8 366.3 92.6 368.7 92 370.6C91.4 372.5 90.4 374.4 90.7 375.7C91 377 93.6 377.2 94 378.3C94.4 379.4 92.9 380.7 93.3 382C93.7 383.3 94.9 385.1 96.5 386C98.1 386.9 100.7 387.3 102.8 387.2C104.9 387.1 107.1 386.4 109.2 385.3C111.3 384.2 113.4 382.6 115.5 380.8C117.6 379 120.1 376.8 122 374.5C123.9 372.2 125.8 369.6 127 366.8C128.2 364.1 129.2 361 129.5 358C129.8 355 129.4 351.3 129 349C128.6 346.7 128.2 345.8 127 344C125.8 342.2 124.1 340.4 122 338.4C119.9 336.4 116.6 333.8 114.3 332C112 330.2 108.6 329 108 327.5C107.4 326 109.6 324.8 110.5 323C111.4 321.2 113.3 319 113.6 316.7C113.9 314.4 113 311.4 112.4 309C111.8 306.6 111 303.8 109.8 302.5C108.6 301.2 106.7 301.8 105 301.5C103.3 301.2 100.6 300.8 99.5 301Z"/>
<path fill="#ff7a00" d="M100.2 302.2C101.9 301.3 107.4 301.1 109.3 302.2C111.2 303.3 111 306.8 111.5 309C112 311.2 112.4 313.4 112 315.5C111.6 317.6 110.1 320 109 321.8C107.9 323.6 106.7 326.2 105.6 326.5C104.5 326.8 103.4 325.6 102.5 323.8C101.6 322 100.5 318.2 100 315.5C99.5 312.8 99.3 310 99.3 307.8C99.3 305.6 98.5 303.1 100.2 302.2Z"/>
<path fill="#ff1300" d="M101 302.4C102.4 301.6 107.2 301.3 108.8 302.4C110.4 303.5 110.3 306.8 110.6 309C110.9 311.2 111.1 313.5 110.6 315.5C110.1 317.5 108.4 319.6 107.5 321C106.6 322.4 106 323.7 105.2 323.8C104.4 323.9 103.5 323.1 102.8 321.5C102.1 319.9 101.2 316.4 100.8 314C100.4 311.6 100.2 308.9 100.2 307C100.2 305.1 99.6 303.2 101 302.4Z"/>
<path fill="#800000" d="M101.8 302.7C103 302.1 106.9 301.6 108.2 302.7C109.5 303.8 109.6 306.9 109.7 309C109.8 311.1 109.6 313.6 109 315.5C108.4 317.4 106.7 319.6 105.8 320.3C104.9 321.1 104.3 321.2 103.6 320C102.9 318.8 102 315.2 101.6 313C101.2 310.8 101.2 308.2 101.2 306.5C101.2 304.8 100.6 303.3 101.8 302.7Z"/>
<path fill="none" d="M102.8 304C103.7 303.5 106.4 303.2 107.3 304C108.2 304.8 108.3 307.2 108.3 309C108.3 310.8 107.9 313 107.3 314.5C106.8 316 105.6 317.6 105 318C104.4 318.4 104.2 318.2 103.8 317.2C103.4 316.2 102.8 313.7 102.5 312C102.2 310.3 102.1 308.3 102.2 307C102.2 305.7 102 304.5 102.8 304Z"/>
<path fill="none" d="M104 306C104.5 305.4 105.9 305.3 106.4 306C106.9 306.7 106.9 308.7 106.8 310C106.7 311.3 106.3 313.1 106 314C105.7 314.9 105.2 315.6 104.9 315.5C104.6 315.4 104.2 314.5 104 313.5C103.8 312.5 103.4 310.8 103.4 309.5C103.4 308.2 103.5 306.6 104 306Z"/>
<path fill="#ff7a00" d="M88.2 354C87.6 352.6 88 349.9 88.8 347.7C89.7 345.5 91.2 342.5 93.3 340.7C95.4 338.9 98.4 337.5 101.5 337C104.6 336.5 108.5 336.6 111.7 337.5C114.9 338.4 118.3 340.5 120.6 342.6C122.9 344.7 124.7 347.5 125.7 350.3C126.7 353.1 126.8 356.4 126.4 359.2C126 361.9 124.8 364.6 123.2 366.8C121.6 369 118.9 370.8 116.8 372.5C114.7 374.2 112.4 376.2 110.5 377C108.6 377.8 105.8 377.8 105.4 377C105 376.2 107 373.8 108 372.5C109 371.2 110.9 370.8 111.7 369.4C112.5 368 113.2 365.9 113 364.3C112.8 362.7 111.8 360.9 110.5 359.8C109.2 358.8 107.3 358.5 105.4 358C103.5 357.5 101.1 356.9 99 356.6C96.9 356.3 94.4 356.4 92.6 356C90.8 355.6 88.8 355.4 88.2 354Z"/>
<path fill="#ff1300" d="M92.6 346.5C92.9 345.1 94.6 343.1 96.5 342C98.4 340.9 101.2 340.1 104 340C106.8 339.9 110.3 340.2 113 341.4C115.7 342.6 118.3 344.9 120 347C121.7 349.1 122.9 351.6 123.2 354C123.5 356.4 122.9 359.9 122 361.7C121.1 363.5 119.3 365 118 365C116.7 365 115.6 362.8 114.3 361.7C113.1 360.6 112.2 359.6 110.5 358.5C108.8 357.4 106 356.3 104 355.4C102 354.4 100 353.6 98.4 352.8C96.8 352 95.5 351.4 94.5 350.3C93.5 349.2 92.3 347.9 92.6 346.5Z"/>
<path fill="#800000" d="M98.4 344.5C99.2 343.5 103 342.8 105.4 343C107.8 343.2 110.8 344.4 113 345.8C115.2 347.2 117.5 349.7 118.7 351.5C119.9 353.3 120.5 355.4 120 356.6C119.5 357.8 117.3 358.5 115.5 358.5C113.7 358.5 111.1 357.6 109.2 356.6C107.3 355.7 105.5 354.1 104 352.8C102.5 351.5 101.2 350.4 100.3 349C99.4 347.6 97.5 345.5 98.4 344.5Z"/>
<path fill="none" d="M108 349C108.9 348.6 112.7 349.4 114.3 350.3C115.9 351.2 117.6 353.9 117.5 354.7C117.4 355.5 115 355.7 113.6 355.4C112.2 355.1 110.1 353.9 109.2 352.8C108.3 351.7 107.1 349.4 108 349Z"/>
</g>
<g class="m">
<circle cx="93.6" cy="298.8" r="2.3" fill="#000070" stroke-width=".7"/>
<rect x="100.8" y="296.3" width="8" height="4.6" fill="#00d4ff"/>
<rect x="161.8" y="296.5" width="8.1" height="5" fill="none"/>
<circle cx="176.3" cy="298.8" r="3" fill="#000070" stroke-width=".7"/>
<path d="M182 297.6v2.4" stroke-width="1"/>
<path d="M159.8 309h4M176.4 309h4"/>
<path d="M159.8 318h4M176.4 318h4"/>
<rect x="92.6" y="356.5" width="3.4" height="3.4" fill="#0000c8" stroke-width=".6"/>
<path d="M88.5 358.2h2M102 359.2h4"/>
<rect x="161.8" y="355.9" width="8.1" height="5" fill="none"/>
<circle cx="176.3" cy="358.2" r="3" fill="#000070" stroke-width=".7"/>
<path d="M182 357v2.4" stroke-width="1"/>
<path d="M85.5 368.2h3.5M102.5 368.2h3.5"/>
<path d="M85.5 376.7h3.5M102.5 376.7h3.5"/>
<circle cx="93.6" cy="411.6" r="2.3" fill="#000070" stroke-width=".7"/>
<rect x="100.8" y="409.1" width="8" height="4.6" fill="#4dffaa"/>
<rect x="161.8" y="409.3" width="8.1" height="5" fill="none"/>
<circle cx="176.3" cy="411.6" r="3" fill="#000070" stroke-width=".7"/>
<path d="M182 410.4v2.4" stroke-width="1"/>
<path d="M85.5 421.6h3.5M102.5 421.6h3.5"/>
<path d="M85.5 430.1h3.5M102.5 430.1h3.5"/>
<path d="M56 245.3H214.5" stroke-width="1.3"/>
<rect x="4" y="259.7" width="7.4" height="4.6" fill="none" stroke-width="1.2"/>
</g>
<text class="l" text-anchor="middle" x="155.5" y="250.8">0.000</text>
<text class="l" text-anchor="middle" transform="translate(82 293) rotate(-5)" y="4.5">0.060</text>
<text class="l" text-anchor="middle" transform="translate(174 312) rotate(55)" y="4.5">0.040</text>
<text class="l" text-anchor="middle" transform="translate(90.5 333.5) rotate(-63)" y="4.5">0.120</text>
<text class="l" text-anchor="middle" transform="translate(133 367.5) rotate(-66)" y="4.5">0.100</text>
<text class="l" text-anchor="middle" transform="translate(78 392) rotate(55)" y="4.5">0.080</text>
<text class="l" text-anchor="middle" transform="translate(160 438) rotate(-25)" y="4.5">0.020</text>
</g>
<g clip-path="url(#p4)">
<rect x="247" y="245" width="218.5" height="218" fill="#0000ff"/>
<g class="c">
<path fill="#000080" d="M276 236C275.3 237.6 273.8 242.2 272 245.4C270.2 248.6 267.5 251.6 265 255C262.5 258.4 259.5 262.5 257 266C254.5 269.5 252.3 272.7 250 276C247.7 279.3 244.2 284.3 243 286L236 236Z"/>
<path fill="#000080" d="M433 236C433.5 237.5 434.7 241.2 436 245C437.3 248.8 438.8 254.3 441 259C443.2 263.7 446.2 268.5 449 273C451.8 277.5 455.4 282.3 458 286C460.6 289.7 462.3 291.8 464.6 295C466.9 298.2 470.8 303.3 472 305L476 236Z"/>
<path fill="#000080" d="M240 420C241.2 421.7 244.2 426 247 430C249.8 434 252.7 439.7 257 444C261.3 448.3 267.7 452.8 273 456C278.3 459.2 284.5 461 289 463C293.5 465 298.2 467.2 300 468L240 472Z"/>
<path fill="#000080" d="M422 468C423.2 467.2 425.8 465.3 429 463C432.2 460.7 436.3 458.5 441 454C445.7 449.5 453.2 442 457 436C460.8 430 461.8 423.2 464 418C466.2 412.8 469 407.2 470 405L476 472Z"/>
<path fill="#0060ff" d="M294 236C294 237.5 294.2 240.5 294 245C293.8 249.5 294 257.3 293 263C292 268.7 290 273.3 288 279C286 284.7 283.2 291 281 297C278.8 303 276.7 308.3 275 315C273.3 321.7 272 330.7 271 337C270 343.3 269.2 347.3 269 353C268.8 358.7 269.3 365 270 371C270.7 377 271.7 383.3 273 389C274.3 394.7 276 400 278 405C280 410 281.8 414.2 285 419C288.2 423.8 291.7 429.5 297 434C302.3 438.5 309.7 442.8 317 446C324.3 449.2 333 451.7 341 453C349 454.3 357 454.3 365 454C373 453.7 381 453 389 451C397 449 405.7 445.8 413 442C420.3 438.2 427.8 432.5 433 428C438.2 423.5 441 420.2 444 415C447 409.8 449 403.3 451 397C453 390.7 454.8 383.7 456 377C457.2 370.3 457.8 363.7 458 357C458.2 350.3 457.7 343 457 337C456.3 331 455.3 326 454 321C452.7 316 450.8 311.3 449 307C447.2 302.7 445.2 299 443 295C440.8 291 438.5 287 436 283C433.5 279 430.5 275.3 428 271C425.5 266.7 422.8 261.3 421 257C419.2 252.7 418.2 248.5 417.4 245C416.6 241.5 416.2 237.5 416 236L416 230L294 230Z"/>
<path fill="#00d4ff" d="M313 236C313.2 237.5 313.3 241.8 314 245C314.7 248.2 315.7 251.7 317 255C318.3 258.3 321.2 262 322 265C322.8 268 322.8 270.2 322 273C321.2 275.8 319.2 278.7 317 282C314.8 285.3 311.5 289.2 309 293C306.5 296.8 303.8 300.7 302 305C300.2 309.3 299.3 313.7 298 319C296.7 324.3 295.1 330.7 294 337C292.9 343.3 291.4 350.3 291.4 357C291.4 363.7 292.6 370.7 294 377C295.4 383.3 297.8 389.5 300 395C302.2 400.5 304.3 406 307 410C309.7 414 313.3 416.9 316.4 419C319.5 421.1 322.5 421.6 325.5 422.7C328.5 423.8 332.2 424.6 334.5 425.5C336.8 426.4 337.2 427.2 339 428C340.8 428.8 344 429.1 345.5 430C347 430.9 346.9 432.4 348.2 433.6C349.4 434.8 350.5 436.3 353 437C355.5 437.7 358.3 438.2 363 438C367.7 437.8 375 438.2 381 436C387 433.8 394.3 428.7 399 425C403.7 421.3 405.5 418 409 414C412.5 410 417.2 405.5 420 401C422.8 396.5 424.5 392 426 387C427.5 382 428.2 376.7 429 371C429.8 365.3 430.1 358.7 430.6 353C431.1 347.3 432.1 341 432 337C431.9 333 431.3 332.3 430 329C428.7 325.7 425.8 321 424 317C422.2 313 420.3 308.7 419 305C417.7 301.3 416.7 298 416 295C415.3 292 415.7 290 415 287C414.3 284 413.3 280.7 412 277C410.7 273.3 408.5 268.7 407 265C405.5 261.3 403.9 258.3 403 255C402.1 251.7 401.7 248.2 401.4 245C401.1 241.8 401.1 237.5 401 236L401 230L313 230Z"/>
<path fill="#4dffaa" d="M342 236C342.2 237.5 342 242.3 343 245C344 247.7 346 250.3 348 252C350 253.7 352.2 254.7 355 255C357.8 255.3 361.8 254.8 365 254C368.2 253.2 372 251.5 374 250C376 248.5 376.3 247.3 377 245C377.7 242.7 377.8 237.5 378 236L378 230L342 230Z"/>
<path fill="#4dffaa" d="M333 298.5C331 299 329.8 299.7 327.8 300.8C325.8 301.9 322.8 303.5 320.8 305.3C318.8 307.1 317.1 309.3 315.7 311.6C314.3 313.9 313.4 316.6 312.5 319.3C311.6 322 311 325.1 310.6 328C310.2 330.9 309.9 332.2 310 337C310.1 341.8 310.8 350.3 311 357C311.2 363.7 310.6 371.7 311 377C311.4 382.3 312.4 385.5 313.6 389C314.8 392.5 316.2 395.1 318.2 398C320.2 400.9 323.4 404.2 325.5 406.4C327.6 408.6 328.8 410 331 411C333.2 412 336.3 412.3 339 412.5C341.7 412.7 344.7 411.7 347 412C349.3 412.3 350.5 414 352.7 414.5C354.9 415 357.3 415.3 360 415C362.7 414.7 366 413.9 369 412.7C372 411.5 374.9 410.1 378 408C381.1 405.9 384.8 402.8 387.3 400C389.8 397.2 391.2 394.8 393 391C394.8 387.2 396.8 381.7 398 377C399.2 372.3 399.3 367.7 400 363C400.7 358.3 401.5 353.3 402 349C402.5 344.7 402.7 340 403 337C403.3 334 404 333.5 404 331C404 328.5 403.8 324.2 403 322C402.2 319.8 399.3 319.3 399 317.5C398.7 315.7 401.3 312.8 401 311C400.7 309.2 397.4 308.8 397 307C396.6 305.2 399.8 302.3 398.5 300.5C397.2 298.7 392.2 297.4 389 296C385.8 294.6 382.7 293.1 379 292C375.3 290.9 370.7 289.8 367 289.6C363.3 289.4 359.5 290.1 357 291C354.5 291.9 353.7 293.8 352 295C350.3 296.2 349 298 347 298.5C345 299 342.3 298 340 298C337.7 298 335 298 333 298.5Z"/>
<path fill="#aaff4d" d="M336 299.5C334.5 299.8 334.7 300.3 334.2 301.5C333.7 302.7 334.1 304.2 333 306.5C331.9 308.8 329.5 312.3 327.8 315.5C326.1 318.7 324.1 322.4 322.7 325.6C321.3 328.9 320.2 332.2 319.5 335C318.8 337.8 318.4 340.1 318.3 342.6C318.2 345.2 318.5 348.2 319 350.3C319.5 352.4 321.7 353.5 321.5 355.4C321.3 357.3 317.4 359.8 317.6 361.7C317.8 363.6 321.3 365.3 322.7 366.8C324.1 368.3 325.6 368.9 326 370.6C326.4 372.3 325 375.1 325.3 377C325.6 378.9 327.4 380 328 382C328.6 384 328.1 386.3 329 389C329.9 391.7 332.4 395.2 333.6 398C334.8 400.8 335.4 403.4 336.4 405.5C337.4 407.6 338 409.8 339.5 410.5C341 411.2 343.9 411.4 345.5 410C347.1 408.6 347.6 404.1 349 401.8C350.4 399.5 352.2 398.5 353.6 396.4C355 394.3 356.3 390.7 357.3 389C358.3 387.3 358.4 387.4 359.6 386C360.8 384.6 363 383.1 364.7 380.8C366.4 378.5 368.5 375.2 369.8 372C371.1 368.8 371.9 365.1 372.4 361.7C372.9 358.3 373.2 354.7 373 351.5C372.8 348.3 371.6 345 371 342.6C370.4 340.2 369.9 339.6 369.2 337C368.5 334.4 367.6 330.2 366.6 327C365.7 323.8 364.9 320.6 363.5 318C362.1 315.4 360.3 313.5 358.4 311.6C356.5 309.7 353.8 308.2 352 306.5C350.2 304.8 349 302.6 347.5 301.5C346 300.4 344.9 300.3 343 300C341.1 299.7 337.5 299.2 336 299.5Z"/>
<path fill="#ffe600" d="M338.5 301C337.4 301.2 337.6 301.9 337.2 303C336.8 304.1 336.7 305.7 336 307.8C335.3 309.9 334.4 312.7 333 315.5C331.6 318.3 329.2 321.4 327.8 324.4C326.4 327.4 325.3 330.5 324.5 333.3C323.7 336.1 323.1 339 322.8 341.4C322.5 343.8 322.3 345.6 322.7 347.7C323.1 349.8 324.2 352.3 325.3 354C326.4 355.7 327.3 357.2 329 358C330.7 358.8 334.8 357.4 335.5 358.5C336.2 359.6 334.2 362.3 333.5 364.3C332.8 366.3 331.6 368.7 331 370.6C330.4 372.5 329.4 374.4 329.7 375.7C330 377 332.6 377.2 333 378.3C333.4 379.4 331.9 380.7 332.3 382C332.7 383.3 333.9 385.1 335.5 386C337.1 386.9 339.7 387.3 341.8 387.2C343.9 387.1 346.1 386.4 348.2 385.3C350.3 384.2 352.4 382.6 354.5 380.8C356.6 379 359.1 376.8 361 374.5C362.9 372.2 364.8 369.6 366 366.8C367.2 364.1 368.2 361 368.5 358C368.8 355 368.4 351.3 368 349C367.6 346.7 367.2 345.8 366 344C364.8 342.2 363.1 340.4 361 338.4C358.9 336.4 355.6 333.8 353.3 332C351 330.2 347.6 329 347 327.5C346.4 326 348.6 324.8 349.5 323C350.4 321.2 352.3 319 352.6 316.7C352.9 314.4 352 311.4 351.4 309C350.8 306.6 350 303.8 348.8 302.5C347.6 301.2 345.7 301.8 344 301.5C342.3 301.2 339.6 300.8 338.5 301Z"/>
<path fill="#ff7a00" d="M339.2 302.2C340.9 301.3 346.4 301.1 348.3 302.2C350.2 303.3 350.1 306.8 350.5 309C350.9 311.2 351.4 313.4 351 315.5C350.6 317.6 349.1 320 348 321.8C346.9 323.6 345.7 326.2 344.6 326.5C343.5 326.8 342.4 325.6 341.5 323.8C340.6 322 339.5 318.2 339 315.5C338.5 312.8 338.3 310 338.3 307.8C338.3 305.6 337.5 303.1 339.2 302.2Z"/>
<path fill="#ff1300" d="M340 302.4C341.4 301.6 346.2 301.3 347.8 302.4C349.4 303.5 349.3 306.8 349.6 309C349.9 311.2 350.1 313.5 349.6 315.5C349.1 317.5 347.4 319.6 346.5 321C345.6 322.4 345 323.7 344.2 323.8C343.4 323.9 342.5 323.1 341.8 321.5C341.1 319.9 340.2 316.4 339.8 314C339.4 311.6 339.2 308.9 339.2 307C339.2 305.1 338.6 303.2 340 302.4Z"/>
<path fill="#800000" d="M340.8 302.7C342 302.1 345.9 301.6 347.2 302.7C348.5 303.8 348.6 306.9 348.7 309C348.8 311.1 348.6 313.6 348 315.5C347.4 317.4 345.7 319.6 344.8 320.3C343.9 321.1 343.3 321.2 342.6 320C341.9 318.8 341 315.2 340.6 313C340.2 310.8 340.2 308.2 340.2 306.5C340.2 304.8 339.6 303.3 340.8 302.7Z"/>
<path fill="none" d="M341.8 304C342.7 303.5 345.4 303.2 346.3 304C347.2 304.8 347.3 307.2 347.3 309C347.3 310.8 346.9 313 346.3 314.5C345.8 316 344.6 317.6 344 318C343.4 318.4 343.2 318.2 342.8 317.2C342.4 316.2 341.8 313.7 341.5 312C341.2 310.3 341.1 308.3 341.2 307C341.2 305.7 340.9 304.5 341.8 304Z"/>
<path fill="none" d="M343 306C343.5 305.4 344.9 305.3 345.4 306C345.9 306.7 345.9 308.7 345.8 310C345.7 311.3 345.3 313.1 345 314C344.7 314.9 344.2 315.6 343.9 315.5C343.6 315.4 343.2 314.5 343 313.5C342.8 312.5 342.4 310.8 342.4 309.5C342.4 308.2 342.5 306.6 343 306Z"/>
<path fill="#ff7a00" d="M327.2 354C326.6 352.6 326.9 349.9 327.8 347.7C328.7 345.5 330.2 342.5 332.3 340.7C334.4 338.9 337.4 337.5 340.5 337C343.6 336.5 347.5 336.6 350.7 337.5C353.9 338.4 357.3 340.5 359.6 342.6C361.9 344.7 363.7 347.5 364.7 350.3C365.7 353.1 365.8 356.4 365.4 359.2C365 361.9 363.8 364.6 362.2 366.8C360.6 369 357.9 370.8 355.8 372.5C353.7 374.2 351.4 376.2 349.5 377C347.6 377.8 344.8 377.8 344.4 377C344 376.2 345.9 373.8 347 372.5C348.1 371.2 349.9 370.8 350.7 369.4C351.5 368 352.2 365.9 352 364.3C351.8 362.7 350.8 360.9 349.5 359.8C348.2 358.8 346.3 358.5 344.4 358C342.5 357.5 340.1 356.9 338 356.6C335.9 356.3 333.4 356.4 331.6 356C329.8 355.6 327.8 355.4 327.2 354Z"/>
<path fill="#ff1300" d="M331.6 346.5C331.9 345.1 333.6 343.1 335.5 342C337.4 340.9 340.2 340.1 343 340C345.8 339.9 349.3 340.2 352 341.4C354.7 342.6 357.3 344.9 359 347C360.7 349.1 361.9 351.6 362.2 354C362.5 356.4 361.9 359.9 361 361.7C360.1 363.5 358.3 365 357 365C355.7 365 354.6 362.8 353.3 361.7C352.1 360.6 351.2 359.6 349.5 358.5C347.8 357.4 345 356.3 343 355.4C341 354.4 339 353.6 337.4 352.8C335.8 352 334.5 351.4 333.5 350.3C332.5 349.2 331.3 347.9 331.6 346.5Z"/>
<path fill="#800000" d="M337.4 344.5C338.2 343.5 342 342.8 344.4 343C346.8 343.2 349.8 344.4 352 345.8C354.2 347.2 356.5 349.7 357.7 351.5C358.9 353.3 359.5 355.4 359 356.6C358.5 357.8 356.3 358.5 354.5 358.5C352.7 358.5 350.1 357.6 348.2 356.6C346.3 355.7 344.5 354.1 343 352.8C341.5 351.5 340.2 350.4 339.3 349C338.4 347.6 336.5 345.5 337.4 344.5Z"/>
<path fill="none" d="M347 349C347.9 348.6 351.7 349.4 353.3 350.3C354.9 351.2 356.6 353.9 356.5 354.7C356.4 355.5 354 355.7 352.6 355.4C351.2 355.1 349.1 353.9 348.2 352.8C347.3 351.7 346.1 349.4 347 349Z"/>
</g>
<g class="m">
<circle cx="332.6" cy="298.8" r="2.3" fill="#000070" stroke-width=".7"/>
<rect x="339.8" y="296.3" width="8" height="4.6" fill="#00d4ff"/>
<rect x="400.8" y="296.5" width="8.1" height="5" fill="none"/>
<circle cx="415.3" cy="298.8" r="3" fill="#000070" stroke-width=".7"/>
<path d="M421 297.6v2.4" stroke-width="1"/>
<path d="M398.8 309h4M415.4 309h4"/>
<path d="M398.8 318h4M415.4 318h4"/>
<rect x="331.6" y="356.5" width="3.4" height="3.4" fill="#0000c8" stroke-width=".6"/>
<path d="M327.5 358.2h2M341 359.2h4"/>
<rect x="400.8" y="355.9" width="8.1" height="5" fill="none"/>
<circle cx="415.3" cy="358.2" r="3" fill="#000070" stroke-width=".7"/>
<path d="M421 357v2.4" stroke-width="1"/>
<path d="M324.5 368.2h3.5M341.5 368.2h3.5"/>
<path d="M324.5 376.7h3.5M341.5 376.7h3.5"/>
<circle cx="332.6" cy="411.6" r="2.3" fill="#000070" stroke-width=".7"/>
<rect x="339.8" y="409.1" width="8" height="4.6" fill="#4dffaa"/>
<rect x="400.8" y="409.3" width="8.1" height="5" fill="none"/>
<circle cx="415.3" cy="411.6" r="3" fill="#000070" stroke-width=".7"/>
<path d="M421 410.4v2.4" stroke-width="1"/>
<path d="M324.5 421.6h3.5M341.5 421.6h3.5"/>
<path d="M324.5 430.1h3.5M341.5 430.1h3.5"/>
<path d="M295 245.3H453.5" stroke-width="1.3"/>
<rect x="243" y="259.7" width="7.4" height="4.6" fill="none" stroke-width="1.2"/>
</g>
<text class="l" text-anchor="middle" x="394.5" y="250.8">0.000</text>
<text class="l" text-anchor="middle" transform="translate(428.5 321) rotate(62)" y="4.5">0.060</text>
<text class="l" text-anchor="middle" transform="translate(303 439) rotate(25)" y="4.5">0.040</text>
<text class="l" text-anchor="middle" transform="translate(330 334) rotate(-63)" y="4.5">0.120</text>
<text class="l" text-anchor="middle" transform="translate(371 368.5) rotate(-72)" y="4.5">0.100</text>
<text class="l" text-anchor="middle" transform="translate(308.5 349) rotate(-90)" y="4.5">0.080</text>
<text class="l" text-anchor="middle" transform="translate(304 247.3) rotate(0)" y="4.5">0.020</text>
</g>
<rect x="489" y="28.10" width="17.5" height="43.73" fill="#800000"/>
<rect x="489" y="71.43" width="17.5" height="43.73" fill="#ff1300"/>
<rect x="489" y="114.76" width="17.5" height="43.73" fill="#ff7a00"/>
<rect x="489" y="158.09" width="17.5" height="43.73" fill="#ffe600"/>
<rect x="489" y="201.42" width="17.5" height="43.73" fill="#aaff4d"/>
<rect x="489" y="244.75" width="17.5" height="43.73" fill="#4dffaa"/>
<rect x="489" y="288.08" width="17.5" height="43.73" fill="#00d4ff"/>
<rect x="489" y="331.41" width="17.5" height="43.73" fill="#0060ff"/>
<rect x="489" y="374.74" width="17.5" height="43.73" fill="#0000ff"/>
<rect x="489" y="418.07" width="17.5" height="43.73" fill="#000080"/>
<rect x="489" y="28.3" width="17.5" height="433.3" fill="none" stroke="#000" stroke-width="1"/>
<text class="s" x="511.3" y="37.1">0.20</text>
<text class="s" x="511.3" y="80.0">0.18</text>
<text class="s" x="511.3" y="122.8">0.16</text>
<text class="s" x="511.3" y="165.7">0.14</text>
<text class="s" x="511.3" y="208.5">0.12</text>
<text class="s" x="511.3" y="251.3">0.10</text>
<text class="s" x="511.3" y="294.2">0.08</text>
<text class="s" x="511.3" y="337.0">0.06</text>
<text class="s" x="511.3" y="379.9">0.04</text>
<text class="s" x="511.3" y="422.8">0.02</text>
<text class="s" x="522" y="465.6">0</text>
<text class="s" x="471.6" y="17.6" style="font-size:19.3px">P (barg)</text>
</svg></body></html>
